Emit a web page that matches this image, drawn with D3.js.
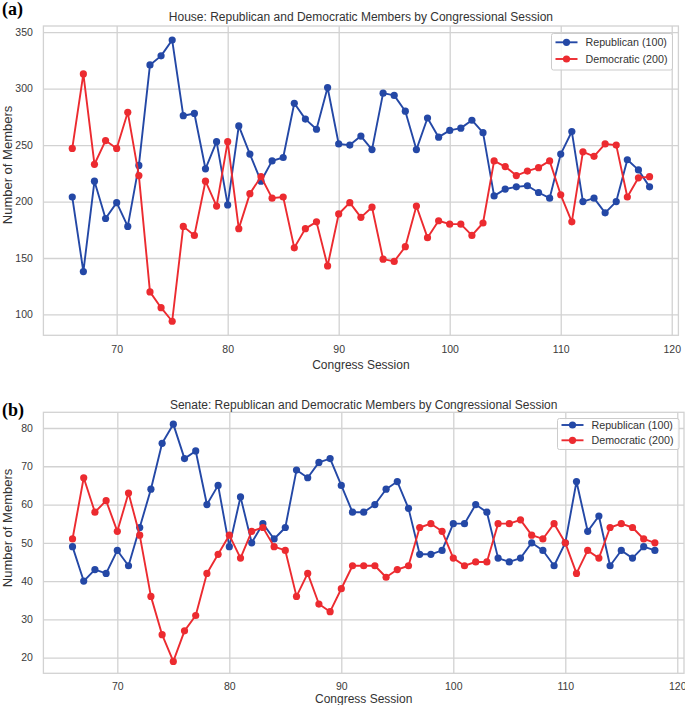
<!DOCTYPE html>
<html><head><meta charset="utf-8">
<script src="https://cdn.jsdelivr.net/npm/d3@7"></script>
<style>
body{margin:0;background:#fff}
svg{display:block}
text{font-family:"Liberation Sans",Arial,sans-serif}
</style>
</head><body>
<svg id="c" width="685" height="705"></svg>
<script>
const sessions=[66,67,68,69,70,71,72,73,74,75,76,77,78,79,80,81,82,83,84,85,86,87,88,89,90,91,92,93,94,95,96,97,98,99,100,101,102,103,104,105,106,107,108,109,110,111,112,113,114,115,116,117,118];
const houseRep=[204,138,218,185,199,178,232,321,329,343,276,278,229,253,197,267,242,218,236,239,287,273,264,301,251,250,258,246,296,294,280,246,274,257,263,265,272,261,205,211,213,214,208,203,242,262,200,203,190,200,237,228,213];
const houseDem=[247,313,233,254,247,279,223,120,106,94,178,170,218,196,253,176,207,222,203,204,159,176,182,143,189,199,186,195,149,147,160,196,168,183,180,180,170,181,236,231,223,227,230,236,206,182,244,240,251,250,204,221,222];
const senateRep=[49,40,43,42,48,44,54,64,76,81,72,74,60,65,49,62,50,55,51,54,69,67,71,72,65,58,58,60,64,66,59,47,47,48,55,55,60,58,46,45,46,50,48,44,50,66,53,57,44,48,46,49,48];
const senateDem=[51,67,58,61,53,63,52,36,26,19,27,31,42,47,52,46,53,54,49,48,36,42,34,32,38,44,44,44,41,43,44,54,55,53,46,44,45,45,55,55,56,52,51,55,50,42,48,46,54,55,54,51,50];
const xTicks=[70,80,90,100,110,120];
const houseYTicks=[100,150,200,250,300,350];
const senateYTicks=[20,30,40,50,60,70,80];
const seriesNames=["Republican (100)","Democratic (200)"];
const seriesColors=["#2448a6","#ec2b30"];
const titles=["House: Republican and Democratic Members by Congressional Session","Senate: Republican and Democratic Members by Congressional Session"];
const xLabel="Congress Session";
const yLabel="Number of Members";
const panelLetters=["(a)","(b)"];

const svg=d3.select("#c");
const GRID="#d2d2d2";

function pad(ext){const r=ext[1]-ext[0];return [ext[0]-0.05*r,ext[1]+0.05*r];}

function panel(o){
  const g=svg.append("g");
  const xd=pad(d3.extent(sessions));
  const yd=pad(d3.extent(o.rep.concat(o.dem)));
  const x=d3.scaleLinear().domain(xd).range([o.left,o.right]);
  const y=d3.scaleLinear().domain(yd).range([o.bottom,o.top]);
  const W=o.right-o.left,H=o.bottom-o.top;

  const xa=g.append("g").attr("transform",`translate(0,${o.bottom})`)
    .call(d3.axisBottom(x).tickValues(xTicks).tickSize(-H).tickPadding(o.xPad).tickFormat(d3.format("d")));
  const ya=g.append("g").attr("transform",`translate(${o.left},0)`)
    .call(d3.axisLeft(y).tickValues(o.yTicks).tickSize(-W).tickPadding(10.5).tickFormat(d3.format("d")));
  [xa,ya].forEach(a=>{
    a.select(".domain").remove();
    a.selectAll(".tick line").attr("stroke",GRID).attr("stroke-width",1.3);
    a.selectAll(".tick text").attr("fill","#3a3a3a").style("font-size","10.5px");
  });

  g.append("rect").attr("x",o.left).attr("y",o.top).attr("width",W).attr("height",H)
    .attr("fill","none").attr("stroke",GRID).attr("stroke-width",1.3);

  [o.rep,o.dem].forEach((vals,i)=>{
    const pts=sessions.map((s,j)=>[s,vals[j]]);
    g.append("path").datum(pts).attr("fill","none").attr("stroke",seriesColors[i])
      .attr("stroke-width",1.9).attr("stroke-linejoin","round")
      .attr("d",d3.line().x(d=>x(d[0])).y(d=>y(d[1])));
    g.selectAll(null).data(pts).enter().append("circle")
      .attr("cx",d=>x(d[0])).attr("cy",d=>y(d[1])).attr("r",3.6).attr("fill",seriesColors[i]);
  });

  g.append("text").attr("x",(o.left+o.right)/2).attr("y",o.titleY).attr("text-anchor","middle")
    .attr("fill","#333").style("font-size","12px").text(o.title);
  g.append("text").attr("x",(o.left+o.right)/2).attr("y",o.xLabelY).attr("text-anchor","middle")
    .attr("fill","#333").style("font-size","12px").text(xLabel);
  g.append("text").attr("transform",`translate(${o.yLabelX},${o.yLabelY}) rotate(-90)`)
    .attr("text-anchor","middle").attr("dominant-baseline","central")
    .attr("fill","#333").style("font-size","13px").text(yLabel);
  g.append("text").attr("x",2).attr("y",o.letterY)
    .style("font-family","'Liberation Serif','Times New Roman',serif").style("font-weight","bold")
    .style("font-size","18px").attr("fill","#000").text(o.letter);

  const L=o.legend;
  g.append("rect").attr("x",L.x).attr("y",L.y).attr("width",L.w).attr("height",L.h).attr("rx",2)
    .attr("fill","#fff").attr("fill-opacity",0.85).attr("stroke","#cccccc").attr("stroke-width",1);
  seriesNames.forEach((n,i)=>{
    const ry=L.rows[i];
    g.append("line").attr("x1",L.x+4).attr("x2",L.x+26).attr("y1",ry).attr("y2",ry)
      .attr("stroke",seriesColors[i]).attr("stroke-width",1.9);
    g.append("circle").attr("cx",L.x+15).attr("cy",ry).attr("r",3.6).attr("fill",seriesColors[i]);
    g.append("text").attr("x",L.x+34).attr("y",ry).attr("dominant-baseline","central")
      .attr("fill","#333").style("font-size","10.7px").text(n);
  });
}

panel({rep:houseRep,dem:houseDem,yTicks:houseYTicks,left:43.4,right:678.4,top:26,bottom:335.3,
  xPad:10,title:titles[0],titleY:20.5,xLabelY:368.5,yLabelX:7.5,yLabelY:165,letter:panelLetters[0],letterY:14.5,
  legend:{x:551.5,y:33.5,w:121,h:36.5,rows:[42.3,59]}});
panel({rep:senateRep,dem:senateDem,yTicks:senateYTicks,left:43.4,right:684,top:412.3,bottom:673.3,
  xPad:9.7,title:titles[1],titleY:408.5,xLabelY:703,yLabelX:7.5,yLabelY:528,letter:panelLetters[1],letterY:416,
  legend:{x:557.5,y:418.5,w:121.5,h:31,rows:[425,440.3]}});
</script>
</body></html>
